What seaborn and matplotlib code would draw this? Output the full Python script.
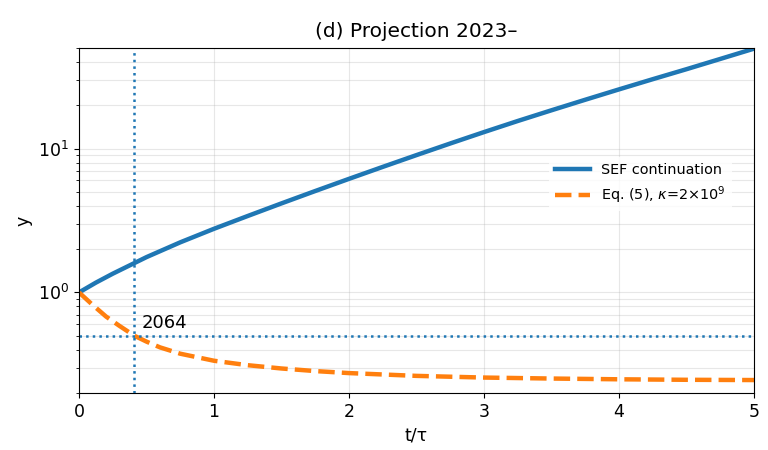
import matplotlib
matplotlib.use('Agg')
import matplotlib.pyplot as plt
import seaborn as sns
import pandas as pd

# values (t/tau, y)
t_sef = [0.0, 0.125, 0.25, 0.5, 0.75, 1.0, 1.25, 1.5, 1.75, 2.0, 2.25, 2.5,
         2.75, 3.0, 3.25, 3.5, 3.75, 4.0, 4.25, 4.5, 4.75, 5.0]
y_sef = [1.00, 1.17, 1.35, 1.76, 2.23, 2.77, 3.40, 4.16, 5.07, 6.16, 7.46,
         9.01, 10.85, 13.02, 15.55, 18.46, 21.85, 25.79, 30.36, 35.63,
         41.98, 49.5]

t_eq5 = [0.0, 0.1, 0.2, 0.3, 0.41, 0.5, 0.6, 0.75, 1.0, 1.25, 1.5, 1.75,
         2.0, 2.5, 3.0, 3.5, 4.0, 4.5, 5.0]
y_eq5 = [1.00, 0.82, 0.68, 0.585, 0.50, 0.455, 0.415, 0.375, 0.335, 0.312,
         0.296, 0.284, 0.275, 0.263, 0.256, 0.252, 0.249, 0.247, 0.246]

t_cross = 0.41
y_cross = 0.5
cross_label = '2064'

sef = pd.DataFrame({'t': t_sef, 'y': y_sef})
eq5 = pd.DataFrame({'t': t_eq5, 'y': y_eq5})

fig = plt.figure(figsize=(7.68, 4.5), dpi=100)
ax = fig.add_axes([0.1029, 0.1267, 0.8789, 0.7666])

sns.lineplot(data=sef, x='t', y='y', ax=ax, color='#1f77b4', lw=3.2,
             label='SEF continuation')
sns.lineplot(data=eq5, x='t', y='y', ax=ax, color='#ff7f0e', lw=3.2,
             linestyle='--', label=r'Eq. (5), $\kappa$=2$\times$10$^9$')

ax.axvline(t_cross, color='#1f77b4', ls=':', lw=1.8)
ax.axhline(y_cross, color='#1f77b4', ls=':', lw=1.8)
ax.text(t_cross + 0.05, y_cross * 1.07, cross_label, fontsize=13,
        va='bottom', ha='left')

ax.set_yscale('log')
ax.set_xlim(0, 5)
ax.set_ylim(0.2, 50)
ax.grid(True, which='both', color='#b0b0b0', alpha=0.3, lw=0.8)
ax.set_axisbelow(True)

ax.set_title('(d) Projection 2023\u2013', fontsize=14.5, pad=8)
ax.set_xlabel('t/\u03c4', fontsize=12.5)
ax.set_ylabel('y', fontsize=12.5)
ax.tick_params(axis='both', which='major', labelsize=12.5)

leg = ax.legend(loc='center right', bbox_to_anchor=(0.978, 0.605),
                fontsize=10.4, handlelength=2.4, frameon=True, framealpha=0.8)
leg.get_frame().set_edgecolor('none')

fig.savefig('out.png', dpi=100)
